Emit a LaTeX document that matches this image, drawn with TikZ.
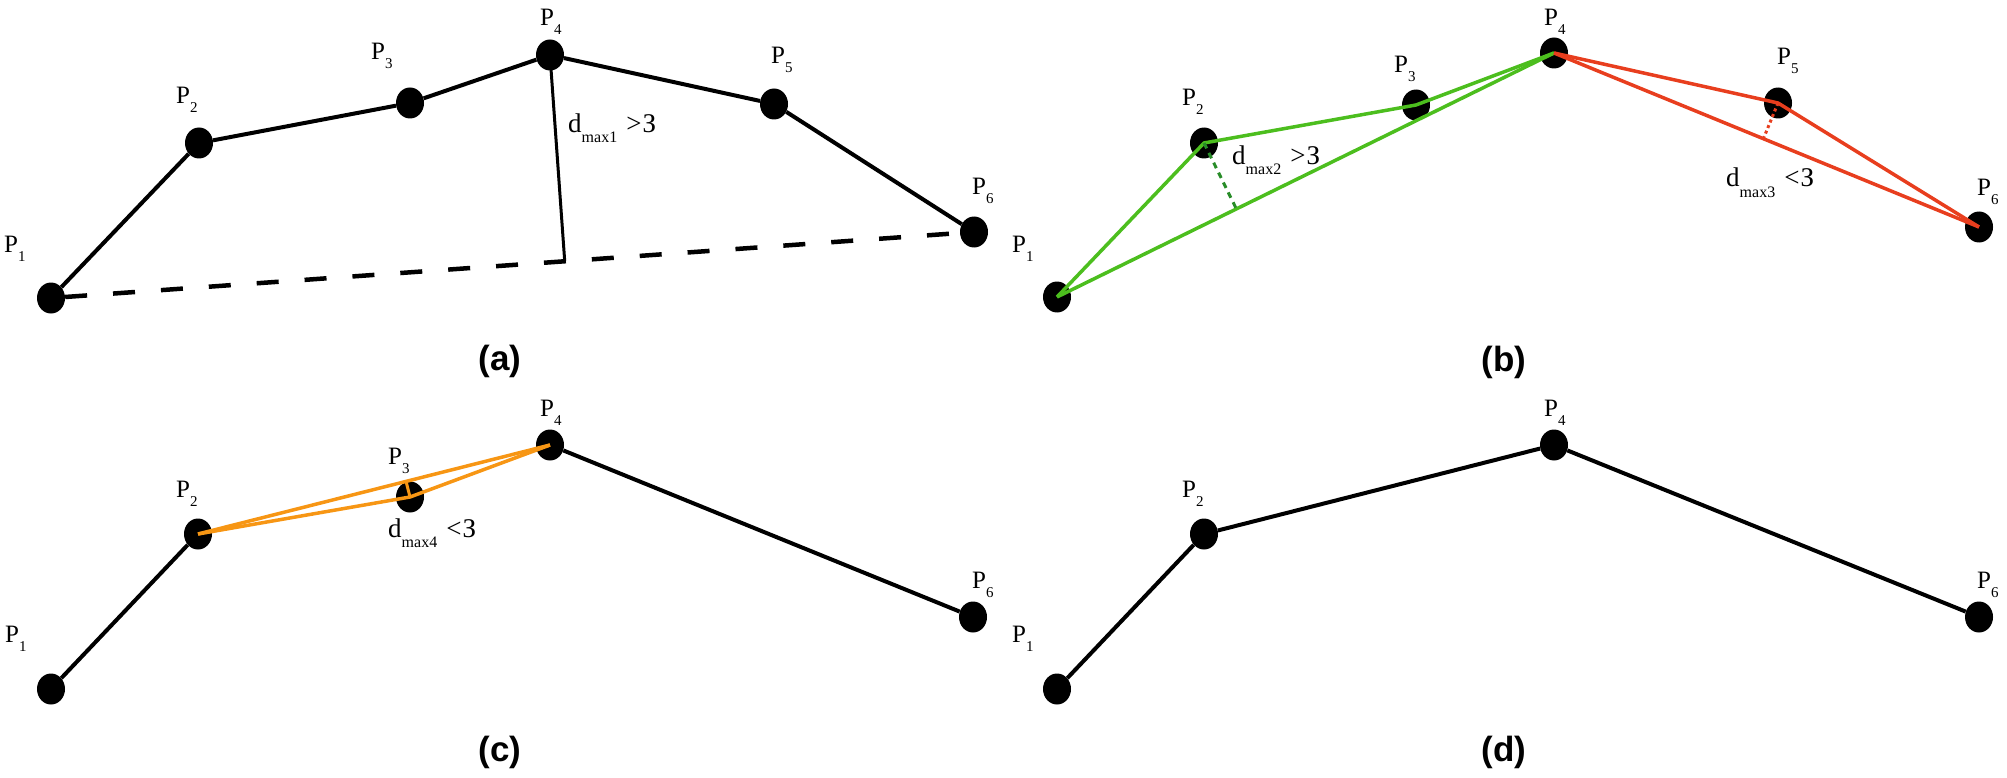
\documentclass[tikz,border=0pt]{standalone}
\usepackage{fontspec}
\setmainfont{Liberation Serif}
\newfontfamily\capfont{Liberation Sans}
\usetikzlibrary{shapes.geometric,calc}
\definecolor{lgreen}{RGB}{76,190,30}
\definecolor{dgreen}{RGB}{40,140,40}
\definecolor{lred}{RGB}{232,62,30}
\definecolor{lorange}{RGB}{247,150,20}
\newcommand{\plab}[1]{P\raisebox{-9pt}{\fontsize{15}{15}\selectfont #1}}
\newcommand{\dlab}[2]{d\raisebox{-10pt}{\fontsize{16}{16}\selectfont max#1}\hspace{9pt}#2\hspace{1pt}\reflectbox{Ɛ}}
\begin{document}
\begin{tikzpicture}[x=1pt,y=-1pt,
  dot/.style={ellipse,fill=black,inner sep=0pt,minimum width=28pt,minimum height=31pt},
  plabel/.style={anchor=base west,inner sep=0pt,font=\fontsize{25}{25}\selectfont},
  dlabel/.style={anchor=base west,inner sep=0pt,font=\fontsize{27}{27}\selectfont},
  captext/.style={inner sep=0pt,font=\capfont\bfseries\fontsize{35}{35}\selectfont},
  seg/.style={line width=4pt,black},
  thinseg/.style={line width=3pt,black},
  dashseg/.style={line width=4.5pt,black,dash pattern=on 22pt off 26pt},
  gseg/.style={line width=3.5pt,lgreen},
  gdash/.style={line width=3pt,dgreen,dash pattern=on 6pt off 5pt},
  rseg/.style={line width=3.5pt,lred},
  rdot/.style={line width=3pt,lred,dash pattern=on 3pt off 3pt},
  oseg/.style={line width=3.5pt,lorange}]
\useasboundingbox (0,0) rectangle (2007,778);

% ---------------- (a) ----------------
\node[dot] (a1) at (51,298) {};
\node[dot] (a2) at (199,143) {};
\node[dot] (a3) at (410,103) {};
\node[dot] (a4) at (550,55) {};
\node[dot] (a5) at (774,104) {};
\node[dot] (a6) at (974,232) {};
\draw[seg] (a1) -- (a2) -- (a3) -- (a4) -- (a5) -- (a6);
\draw[dashseg] (a1) -- (a6);
\coordinate (af) at ($(a1)!(a4)!(a6)$);
\draw[thinseg] (a4.center) -- (af);
\node[plabel] (la1) at (4,252) {\plab{1}};
\node[plabel] (la2) at (176,104) {\plab{2}};
\node[plabel] (la3) at (371,60) {\plab{3}};
\node[plabel] (la4) at (540,26) {\plab{4}};
\node[plabel] (la5) at (771,64) {\plab{5}};
\node[plabel] (la6) at (972,195) {\plab{6}};
\node[dlabel] (da) at (568,133) {\dlab{1}{>}};
\node[captext] (capa) at (500,361) {(a)};

% ---------------- (b) ----------------
\node[dot] (b1) at (1057,297) {};
\node[dot] (b2) at (1204,143) {};
\node[dot] (b3) at (1416,105) {};
\node[dot] (b4) at (1554,53) {};
\node[dot] (b5) at (1778,103) {};
\node[dot] (b6) at (1979,227) {};
\draw[gseg] (b1.center) -- (b2.center) -- (b3.center) -- (b4.center);
\draw[gseg] (b1.center) -- (b4.center);
\coordinate (bf) at ($(b1)!(b2)!(b4)$);
\draw[gdash] (b2.center) -- (bf);
\draw[rseg] (b4.center) -- (b5.center) -- (b6.center);
\draw[rseg] (b4.center) -- (b6.center);
\coordinate (bg) at ($(b4)!(b5)!(b6)$);
\draw[rdot] (b5.center) -- (bg);
\node[plabel] (lb1) at (1012,252) {\plab{1}};
\node[plabel] (lb2) at (1182,106) {\plab{2}};
\node[plabel] (lb3) at (1394,73) {\plab{3}};
\node[plabel] (lb4) at (1544,26) {\plab{4}};
\node[plabel] (lb5) at (1777,65) {\plab{5}};
\node[plabel] (lb6) at (1977,196) {\plab{6}};
\node[dlabel] (db2) at (1232,165) {\dlab{2}{>}};
\node[dlabel] (db3) at (1726,187) {\dlab{3}{<}};
\node[captext] (capb) at (1504,362) {(b)};

% ---------------- (c) ----------------
\node[dot] (c1) at (51,689) {};
\node[dot] (c2) at (198,534) {};
\node[dot] (c3) at (410,497) {};
\node[dot] (c4) at (550,445) {};
\node[dot] (c6) at (973,617) {};
\draw[seg] (c1) -- (c2);
\draw[seg] (c4) -- (c6);
\draw[oseg] (c2.center) -- (c4.center);
\draw[oseg] (c2.center) -- (c3.center) -- (c4.center);
\coordinate (cf) at ($(c2)!(c3)!(c4)$);
\draw[oseg,line width=3pt] (c3.center) -- (cf);
\node[plabel] (lc1) at (5,642) {\plab{1}};
\node[plabel] (lc2) at (176,497) {\plab{2}};
\node[plabel] (lc3) at (388,464) {\plab{3}};
\node[plabel] (lc4) at (540,416) {\plab{4}};
\node[plabel] (lc6) at (972,588) {\plab{6}};
\node[dlabel] (dc) at (388,537) {\dlab{4}{<}};
\node[captext] (capc) at (500,752) {(c)};

% ---------------- (d) ----------------
\node[dot] (d1) at (1057,689) {};
\node[dot] (d2) at (1204,534) {};
\node[dot] (d4) at (1554,445) {};
\node[dot] (d6) at (1979,617) {};
\draw[seg] (d1) -- (d2) -- (d4) -- (d6);
\node[plabel] (ld1) at (1012,642) {\plab{1}};
\node[plabel] (ld2) at (1182,497) {\plab{2}};
\node[plabel] (ld4) at (1544,416) {\plab{4}};
\node[plabel] (ld6) at (1977,588) {\plab{6}};
\node[captext] (capd) at (1504,752) {(d)};
\end{tikzpicture}
\end{document}
